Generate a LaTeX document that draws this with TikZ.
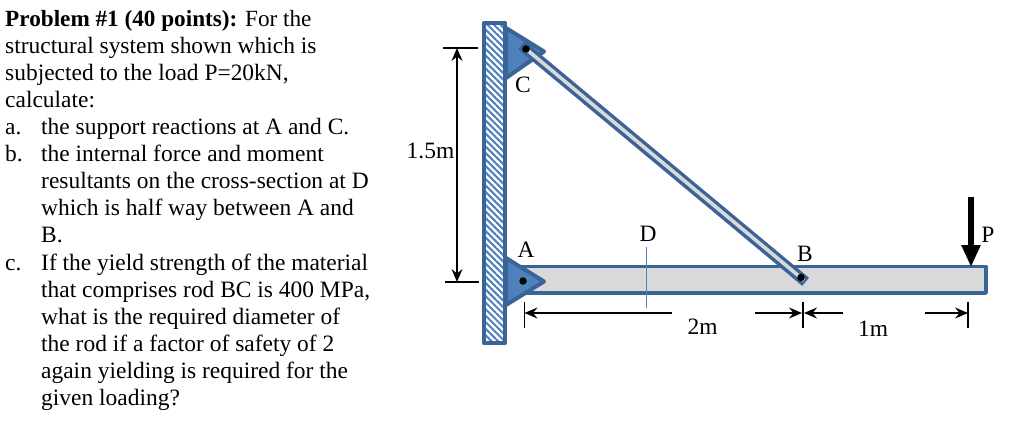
\documentclass[tikz,border=0pt]{standalone}
\usepackage{fontspec}
\setmainfont{Liberation Serif}
\usetikzlibrary{arrows.meta,patterns.meta}
\definecolor{steel}{HTML}{3A6397}
\definecolor{plate}{HTML}{4F81BD}
\definecolor{barfill}{HTML}{D9D9D9}
\tikzset{
  textline/.style={anchor=base west, inner sep=0pt, font=\fontsize{23.45}{27}\selectfont},
  lbl/.style={inner sep=0pt, font=\fontsize{23.45}{27}\selectfont},
  dim/.style={line width=1.1pt, -{Stealth[length=13pt,width=11pt,inset=4.5pt]}},
  tick/.style={line width=1.2pt},
  gusset/.style={draw=steel, fill=plate, line width=4pt, line join=round},
  pin/.style={circle, fill=black, inner sep=0pt, minimum size=7.5pt}
}
\begin{document}
\begin{tikzpicture}[x=1pt,y=-1pt]
  \useasboundingbox (0,0) rectangle (1024,422);
  % problem text
  \node[textline, font=\fontsize{23.2}{27}\selectfont] (title) at (5,26.5) {\textbf{Problem \#1 (40 points):} For the};
  \foreach \t [count=\i] in {structural system shown which is, {subjected to the load P=20kN,}, calculate:} {
    \node[textline] (intro\i) at (5,26.5+27*\i) {\t};
  }
  \node[textline] (itema) at (5,134.5) {a.};
  \node[textline] (itemb) at (5,161.5) {b.};
  \node[textline] (itemc) at (5,270) {c.};
  \foreach \y/\t in {134.5/the support reactions at A and C., 161.5/the internal force and moment,
    188.5/resultants on the cross-section at D, 215.5/which is half way between A and, 242.5/B.,
    270/If the yield strength of the material, 297/{that comprises rod BC is 400 MPa,},
    324/what is the required diameter of, 351/the rod if a factor of safety of 2,
    378/again yielding is required for the, 405/given loading?} {
    \node[textline] (line\y) at (41,\y) {\t};
  }
  % wall
  \draw[draw=steel, line width=4.5pt, line join=round,
    pattern={Lines[angle=-45,distance=4.6pt,line width=2.1pt]}, pattern color=plate]
    (484,23) rectangle (505,343);
  % beam
  \draw[draw=steel, fill=barfill, line width=3.5pt, line join=round] (506,266.5) rectangle (986,293);
  % gussets
  \draw[gusset] (506,28) -- (544,51.5) -- (506,78) -- cycle;
  \draw[gusset] (506,258) -- (544,281.5) -- (506,305) -- cycle;
  % rod
  \coordinate (rodC) at (521.4,45.2);
  \coordinate (rodB) at (805.6,281.8);
  \coordinate (innerC) at (526,49);
  \coordinate (innerB) at (804,280.3);
  \draw[draw=steel, line width=10.5pt] (rodC) -- (rodB);
  \draw[draw=barfill, line width=3.6pt] (innerC) -- (innerB);
  \node[pin] (pinC) at (526,49) {};
  \node[pin] (pinA) at (523,281) {};
  \node[pin] (pinB) at (801,277.5) {};
  % section D
  \coordinate (secT) at (646,247);
  \coordinate (secB) at (646,308);
  \draw[draw=plate, line width=1pt] (secT) -- (secB);
  % load
  \coordinate (loadT) at (971,197);
  \coordinate (loadB) at (971,267);
  \draw[line width=5.5pt, -{Triangle[length=22pt,width=18pt]}] (loadT) -- (loadB);
  % dimensions
  \coordinate (vT1) at (443,48);
  \coordinate (vT2) at (478,48);
  \coordinate (vB1) at (445,282);
  \coordinate (vB2) at (479,282);
  \coordinate (vU) at (457,48);
  \coordinate (vD) at (457,282);
  \draw[tick] (vT1) -- (vT2);
  \draw[tick] (vB1) -- (vB2);
  \draw[line width=1.2pt, {Stealth[length=13pt,width=11pt,inset=4.5pt]}-{Stealth[length=13pt,width=11pt,inset=4.5pt]}] (vU) -- (vD);
  \foreach \n/\x in {ta/524.5, tb/803, tc/968} {
    \coordinate (\n1) at (\x,301.5);
    \coordinate (\n2) at (\x,328);
    \draw[tick] (\n1) -- (\n2);
  }
  \coordinate (a2m) at (672,313);
  \coordinate (b2m) at (755,313);
  \coordinate (a1m) at (843,313);
  \coordinate (b1m) at (925,313);
  \draw[dim] (a2m) -- (ta1 |- a2m);
  \draw[dim] (b2m) -- ([xshift=-1pt]tb1 |- b2m);
  \draw[dim] (a1m) -- ([xshift=1pt]tb1 |- a1m);
  \draw[dim] (b1m) -- (tc1 |- b1m);
  % labels
  \node[lbl] (lblh) at (430.5,151) {1.5m};
  \node[lbl] (lbl2) at (702.5,326.5) {2m};
  \node[lbl] (lbl1) at (873,328.5) {1m};
  \node[lbl] (lblC) at (523,84.5) {C};
  \node[lbl] (lblA) at (526,249.5) {A};
  \node[lbl] (lblD) at (648,233.5) {D};
  \node[lbl] (lblB) at (805,253.5) {B};
  \node[lbl] (lblP) at (988,234.5) {P};
\end{tikzpicture}
\end{document}
